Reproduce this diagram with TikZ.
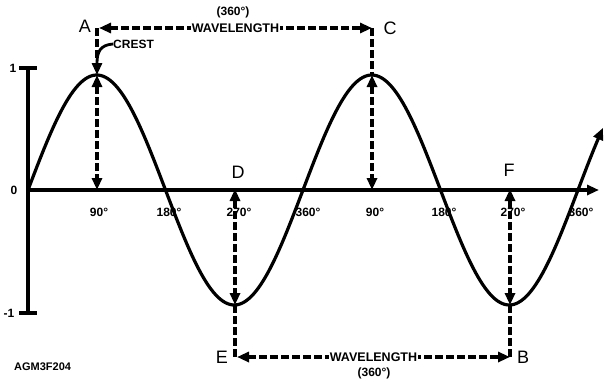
\documentclass[tikz,border=0pt]{standalone}
\usepackage{fontspec}
\setmainfont{Liberation Sans}
\usetikzlibrary{arrows.meta}
\begin{document}
\begin{tikzpicture}[x=1pt,y=-1pt,
  tipe/.style={-{Triangle[length=12pt,width=10pt]}},
  tipb/.style={{Triangle[length=12pt,width=10pt]}-{Triangle[length=12pt,width=10pt]}},
  dsh/.style={line width=3.2pt, dash pattern=on 8pt off 3pt},
  heavy/.style={line width=3.2pt},
  lbl/.style={font=\fontsize{18}{18}\selectfont, inner sep=0pt},
  deg/.style={font=\fontsize{12}{12}\selectfont\bfseries, inner sep=0pt},
  small/.style={font=\fontsize{12}{12}\selectfont\bfseries, inner sep=0pt},
  wl/.style={font=\fontsize{12.5}{12.5}\selectfont\bfseries, fill=white, inner sep=1pt}
]
\useasboundingbox (0,0) rectangle (606,383);

% axes
\coordinate (O) at (28,190);
\coordinate (Ytop) at (28,68);
\coordinate (Ybot) at (28,313);
\coordinate (Xend) at (599,190);
\draw[heavy] (19,68) -- (37,68);
\draw[heavy] (19,313) -- (37,313);
\draw[heavy] (Ytop) -- (Ybot);
\draw[heavy, tipe] (O) -- (Xend);

% sine wave
\draw[heavy, tipe] plot[domain=28:603, samples=240] (\x, {190-115*sin((\x-28)/275*360)});

% axis labels
\node[small] (l1) at (13,68) {1};
\node[small] (l0) at (14,190) {0};
\node[small] (lm1) at (9,313) {-1};

% degree labels
\foreach \xx/\t [count=\i] in {97/90,167/180,237/270,306/360,373/90,442/180,511/270,579/360}
  \node[deg] (d\i) at (\xx+2,212) {\t°};

% key points
\coordinate (Atop) at (97,28);
\coordinate (Acrest) at (97,75);
\coordinate (Aaxis) at (97,190);
\coordinate (Ctop) at (372,28);
\coordinate (Ccrest) at (372,75);
\coordinate (Caxis) at (372,190);
\coordinate (Daxis) at (235,189);
\coordinate (Dtr) at (235,305);
\coordinate (Ebot) at (235,357);
\coordinate (Faxis) at (510,189);
\coordinate (Ftr) at (510,305);
\coordinate (Bbot) at (510,357);

% letters
\node[lbl] (A) at (85,26) {A};
\node[lbl] (C) at (390,28) {C};
\node[lbl] (D) at (238,172) {D};
\node[lbl] (F) at (509,170) {F};
\node[lbl] (E) at (222,357) {E};
\node[lbl] (B) at (523,357) {B};

% vertical dashed lines and arrows
\draw[dsh] (Atop) -- (97,58);
\draw[dsh, tipb] (Acrest) -- (Aaxis);
\draw[dsh] (Ctop) -- (Ccrest);
\draw[dsh, tipb] (Ccrest) -- (Caxis);
\draw[dsh, tipb] (Daxis) -- (Dtr);
\draw[dsh] (Dtr) -- (Ebot);
\draw[dsh, tipb] (Faxis) -- (Ftr);
\draw[dsh] (Ftr) -- (Bbot);

% crest label
\node[small, anchor=west] (crest) at (113,44) {CREST};
\draw[line width=2.8pt, tipe] (crest.west) .. controls (100,45) and (97,52) .. (Acrest);

% wavelength arrows
\draw[dsh, tipb] (99,28) -- node[wl] (wt) {WAVELENGTH} (Ctop);
\node[small] (wtd) at (233,12) {(360°)};
\draw[dsh, tipb] (237,357) -- node[wl] (wb) {WAVELENGTH} (Bbot);
\node[small] (wbd) at (374,373) {(360°)};

% figure code
\node[font=\fontsize{11}{11}\selectfont\bfseries, inner sep=0pt, anchor=west] (code) at (14,367) {AGM3F204};
\end{tikzpicture}
\end{document}
